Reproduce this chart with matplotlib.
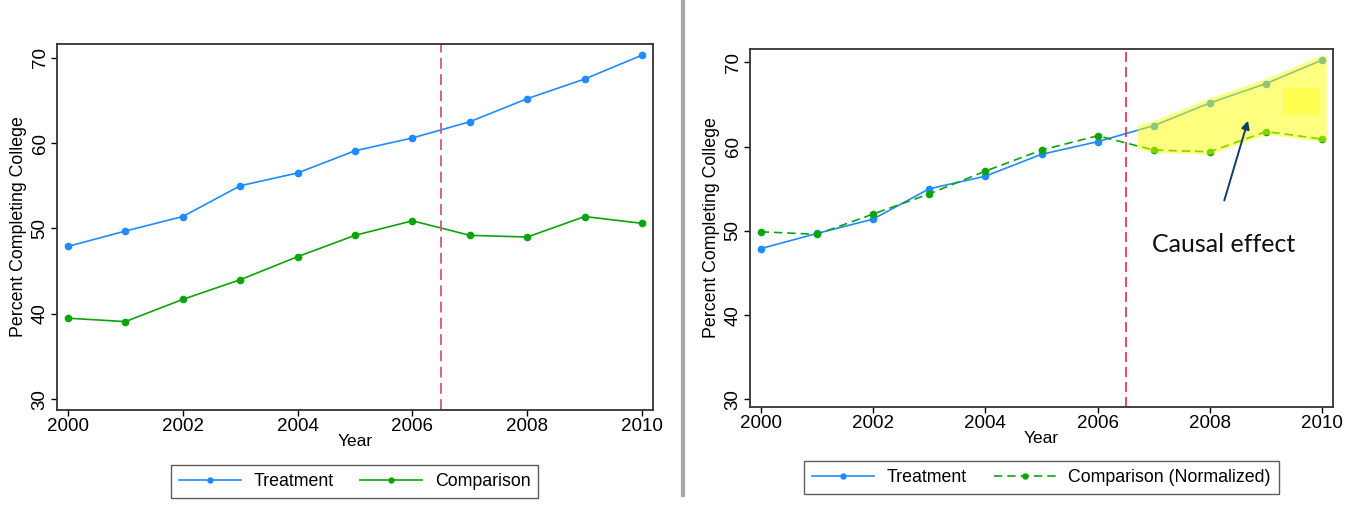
import numpy as np
import matplotlib
matplotlib.use('Agg')
import matplotlib.pyplot as plt
from matplotlib.lines import Line2D

plt.rcParams['font.family'] = ['Liberation Sans', 'DejaVu Sans']

years = np.arange(2000, 2011)
treatment = [47.9, 49.7, 51.4, 55.0, 56.5, 59.1, 60.6, 62.5, 65.2, 67.5, 70.3]
comparison = [39.5, 39.1, 41.7, 44.0, 46.7, 49.2, 50.9, 49.2, 49.0, 51.4, 50.6]
comparison_norm = [49.9, 49.6, 52.0, 54.4, 57.1, 59.6, 61.3, 59.6, 59.4, 61.8, 60.9]

policy_year = 2006.5
xticks = [2000, 2002, 2004, 2006, 2008, 2010]
yticks = [30, 40, 50, 60, 70]

blue = '#1e8cff'
green = '#0aa50a'

fig = plt.figure(figsize=(13.58, 5.09), dpi=100)
W, H = 1358, 509


def px_axes(l, t, r, b):
  return fig.add_axes([l / W, 1 - b / H, (r - l) / W, (b - t) / H])


def style_axes(ax, ylim):
  ax.set_xlim(1999.81, 2010.19)
  ax.set_ylim(*ylim)
  ax.set_xticks(xticks)
  ax.set_yticks(yticks)
  ax.tick_params(labelsize=13.5, length=4, width=1, colors='black', pad=2)
  for lab in ax.get_yticklabels():
    lab.set_rotation(90)
    lab.set_va('center')
  for s in ax.spines.values():
    s.set_color('#333333')
    s.set_linewidth(1.3)
  ax.set_xlabel('Year', fontsize=12.5, labelpad=-1)
  ax.set_ylabel('Percent Completing College', fontsize=12.8, labelpad=3)


def add_legend(ax, cx, cy):
  leg = ax.legend(loc='center', bbox_to_anchor=(cx / W, 1 - cy / H), bbox_transform=fig.transFigure,
                  ncol=2, fontsize=12.8, frameon=True, fancybox=False, edgecolor='#333333',
                  handlelength=3.5, handletextpad=0.7, columnspacing=1.5, borderpad=0.45,
                  markerscale=0.8)
  leg.get_frame().set_linewidth(1.0)
  return leg


# left panel: raw series
ax1 = px_axes(57, 44, 653, 410)
ax1.plot(years, treatment, color=blue, lw=1.2, marker='o', ms=4.5, label='Treatment')
ax1.plot(years, comparison, color=green, lw=1.2, marker='o', ms=4.5, label='Comparison')
ax1.axvline(policy_year, color='#d5567a', lw=1.3, ls=(0, (6, 3)))
style_axes(ax1, (28.75, 71.6))
add_legend(ax1, 354.5, 481.5)

# right panel: normalized comparison
ax2 = px_axes(750, 49, 1333, 407)
ax2.plot(years, treatment, color=blue, lw=1.2, marker='o', ms=4.5, label='Treatment')
ax2.plot(years, comparison_norm, color=green, lw=1.2, marker='o', ms=4.5, ls=(0, (5, 3)),
         label='Comparison (Normalized)')
ax2.axvline(policy_year, color='#e8294f', lw=1.2, ls=(0, (6, 3)))
style_axes(ax2, (29.1, 71.6))

# highlighted gap after the policy
hx = np.linspace(2006.7, 2010.07, 60)
upper = np.interp(hx, years, treatment) + 0.6
lower = np.interp(hx, years, comparison_norm) - 0.3
ax2.fill_between(hx, lower, upper, color='#ffff00', alpha=0.5, lw=0, zorder=5)
ax2.fill_between([2009.3, 2009.95], 63.8, 67.0, color='#ffff00', alpha=0.35, lw=0, zorder=5)

ax2.annotate('', xy=(2008.69, 63.4), xytext=(2008.24, 53.3),
             arrowprops=dict(arrowstyle='-|>', color='#0f3d66', lw=1.4, mutation_scale=12), zorder=6)
ax2.text(2008.25, 48.4, 'Causal effect', fontsize=18, ha='center', va='center',
         family=['Lato', 'DejaVu Sans'], color='#111111')

add_legend(ax2, 1041.5, 477.5)

# grey divider between the two panels
fig.add_artist(Line2D([683 / W, 683 / W], [1 - 495 / H, 1 - 2 / H], transform=fig.transFigure,
                      color='#a8a8a8', lw=3))

fig.savefig('out.png', dpi=100)
